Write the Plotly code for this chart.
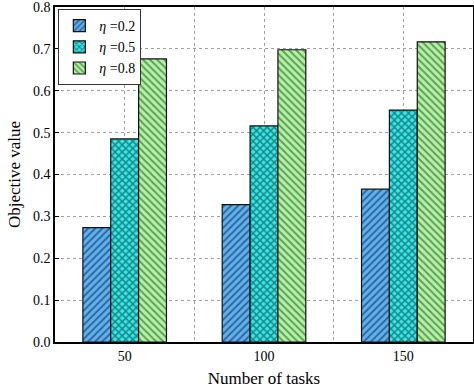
import plotly.graph_objects as go

categories = ["50", "100", "150"]
series_names = ["<i>η</i> =0.2", "<i>η</i> =0.5", "<i>η</i> =0.8"]
eta_02 = [0.273, 0.328, 0.365]
eta_05 = [0.485, 0.516, 0.554]
eta_08 = [0.676, 0.698, 0.717]
y_ticks = [0.0, 0.1, 0.2, 0.3, 0.4, 0.5, 0.6, 0.7, 0.8]

xpos = list(range(len(categories)))
FONT = "Liberation Serif"

styles = [
    dict(color="#5DB3F2", shape="/", fg="#0A1838", sol=0.4, size=5),
    dict(color="#33EBE6", shape="x", fg="#0A1E2E", sol=0.5, size=5),
    dict(color="#B4F2A4", shape="\\", fg="#0D4515", sol=0.4, size=5),
]

fig = go.Figure()
for name, vals, st in zip(series_names, [eta_02, eta_05, eta_08], styles):
    fig.add_trace(go.Bar(
        x=xpos, y=vals, name=name,
        marker=dict(
            color=st["color"],
            line=dict(color="#111111", width=1.2),
            pattern=dict(shape=st["shape"], fgcolor=st["fg"], bgcolor=st["color"],
                         size=st["size"], solidity=st["sol"], fillmode="overlay"),
        ),
    ))

GRID = "#A0A0A0"
fig.update_layout(
    width=474, height=389,
    margin=dict(l=55, r=1, t=7, b=47, autoexpand=False),
    paper_bgcolor="white", plot_bgcolor="white",
    barmode="group", bargap=0.4, bargroupgap=0,
    font=dict(family=FONT, size=14, color="black"),
    showlegend=True,
    legend=dict(
        x=0.008, y=0.994, xanchor="left", yanchor="top",
        bgcolor="white", bordercolor="#333333", borderwidth=1,
        font=dict(family=FONT, size=14, color="black"),
        tracegroupgap=0, itemwidth=30,
    ),
    xaxis=dict(
        range=[-0.5, 2.5], tickvals=xpos, ticktext=categories, automargin=False,
        showgrid=True, gridcolor=GRID, griddash="3px,3px", gridwidth=1,
        minor=dict(tickvals=[0.5, 1.5], showgrid=True, gridcolor=GRID,
                   griddash="3px,3px", gridwidth=1),
        showline=True, linecolor="black", linewidth=1.5, mirror=True,
        ticks="", zeroline=False,
        title=dict(text="Number of tasks", font=dict(family=FONT, size=17), standoff=10),
        tickfont=dict(family=FONT, size=14),
    ),
    yaxis=dict(
        range=[0, 0.8001], tickvals=y_ticks, tickformat=".1f", automargin=False,
        ticklabeloverflow="allow",
        showgrid=True, gridcolor=GRID, griddash="3px,3px", gridwidth=1,
        showline=True, linecolor="black", linewidth=1.5, mirror=True,
        ticks="inside", ticklen=4, tickcolor="black", zeroline=False,
        title=dict(text="Objective value", font=dict(family=FONT, size=17), standoff=8),
        tickfont=dict(family=FONT, size=14),
    ),
)

fig.write_html(
    "out.html",
    config={"displayModeBar": False},
    post_script="document.body.style.margin='0';document.body.style.overflow='hidden';",
)
